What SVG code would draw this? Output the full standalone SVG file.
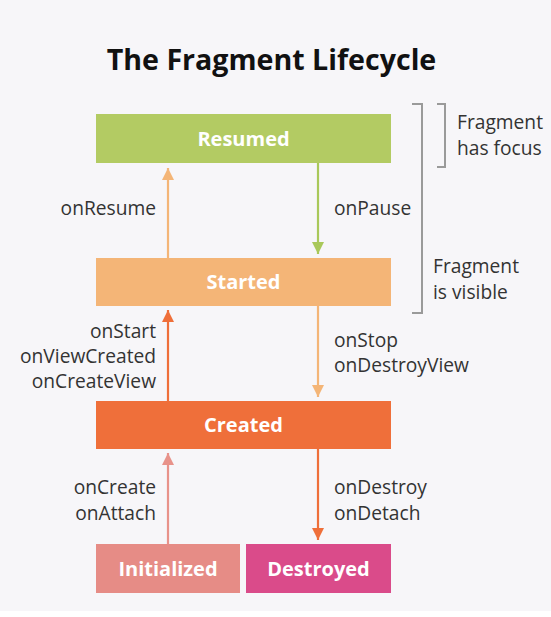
<svg xmlns="http://www.w3.org/2000/svg" width="551" height="617" viewBox="0 0 551 617">
<defs>
<style>
.bg{fill:#f7f6f9}
.title{font-family:"Open Sans","Liberation Sans",sans-serif;font-weight:bold;font-size:28.6px;fill:#111;text-anchor:middle}
.box{font-family:"Open Sans","Liberation Sans",sans-serif;font-weight:bold;font-size:20px;fill:#fff;text-anchor:middle}
.lbl{font-family:"Open Sans","Liberation Sans",sans-serif;font-size:19.2px;fill:#333}
.r{text-anchor:end}
.bracket{fill:none;stroke:#9a9a9a;stroke-width:2}
.conn{stroke-width:2.2;fill:none}
</style>
<marker id="aLight" viewBox="0 0 12 12" refX="12" refY="6" markerWidth="12" markerHeight="12" markerUnits="userSpaceOnUse" orient="auto"><path d="M0,0 L12,6 L0,12 Z" fill="#f4b577"/></marker>
<marker id="aGreen" viewBox="0 0 12 12" refX="12" refY="6" markerWidth="12" markerHeight="12" markerUnits="userSpaceOnUse" orient="auto"><path d="M0,0 L12,6 L0,12 Z" fill="#a9c85a"/></marker>
<marker id="aOrange" viewBox="0 0 12 12" refX="12" refY="6" markerWidth="12" markerHeight="12" markerUnits="userSpaceOnUse" orient="auto"><path d="M0,0 L12,6 L0,12 Z" fill="#ef6f3a"/></marker>
<marker id="aPink" viewBox="0 0 12 12" refX="12" refY="6" markerWidth="12" markerHeight="12" markerUnits="userSpaceOnUse" orient="auto"><path d="M0,0 L12,6 L0,12 Z" fill="#e8928a"/></marker>
</defs>
<rect x="0" y="0" width="551" height="617" fill="#ffffff"/>
<rect class="bg" x="0" y="0" width="551" height="611"/>
<text class="title" x="271.5" y="70">The Fragment Lifecycle</text>

<g id="connectors">
<line class="conn" x1="168" y1="258" x2="168" y2="168" stroke="#f4b577" marker-end="url(#aLight)"/>
<line class="conn" x1="318" y1="163" x2="318" y2="254" stroke="#a9c85a" marker-end="url(#aGreen)"/>
<line class="conn" x1="168" y1="401" x2="168" y2="310" stroke="#ef6f3a" marker-end="url(#aOrange)"/>
<line class="conn" x1="318" y1="306" x2="318" y2="397" stroke="#f4b577" marker-end="url(#aLight)"/>
<line class="conn" x1="168" y1="544" x2="168" y2="453" stroke="#e8928a" marker-end="url(#aPink)"/>
<line class="conn" x1="318" y1="449" x2="318" y2="540" stroke="#ef6f3a" marker-end="url(#aOrange)"/>
<text class="lbl r" x="156" y="215">onResume</text>
<text class="lbl" x="334" y="215">onPause</text>
<text class="lbl r" x="156" y="338">onStart</text>
<text class="lbl r" x="156" y="363">onViewCreated</text>
<text class="lbl r" x="156" y="388">onCreateView</text>
<text class="lbl" x="334" y="347">onStop</text>
<text class="lbl" x="334" y="372">onDestroyView</text>
<text class="lbl r" x="156" y="494">onCreate</text>
<text class="lbl r" x="156" y="520">onAttach</text>
<text class="lbl" x="334" y="494">onDestroy</text>
<text class="lbl" x="334" y="520">onDetach</text>
</g>

<g id="resumed"><rect x="96" y="114" width="295" height="49" fill="#b3cb63"/><text class="box" x="243.5" y="146">Resumed</text></g>
<g id="started"><rect x="96" y="258" width="295" height="48" fill="#f4b577"/><text class="box" x="243.5" y="289">Started</text></g>
<g id="created"><rect x="96" y="401" width="295" height="48" fill="#ef6f3a"/><text class="box" x="243.5" y="432">Created</text></g>
<g id="initialized"><rect x="96" y="544" width="144" height="49" fill="#e68c86"/><text class="box" x="168" y="576">Initialized</text></g>
<g id="destroyed"><rect x="246" y="544" width="145" height="49" fill="#da4b8a"/><text class="box" x="318.5" y="576">Destroyed</text></g>

<g id="focus-bracket">
<path class="bracket" d="M437,104 H445 V167 H437"/>
<text class="lbl" x="457" y="129">Fragment</text>
<text class="lbl" x="457" y="155">has focus</text>
</g>
<g id="visible-bracket">
<path class="bracket" d="M412,104 H422 V313 H412"/>
<text class="lbl" x="433" y="273">Fragment</text>
<text class="lbl" x="433" y="299">is visible</text>
</g>
</svg>
